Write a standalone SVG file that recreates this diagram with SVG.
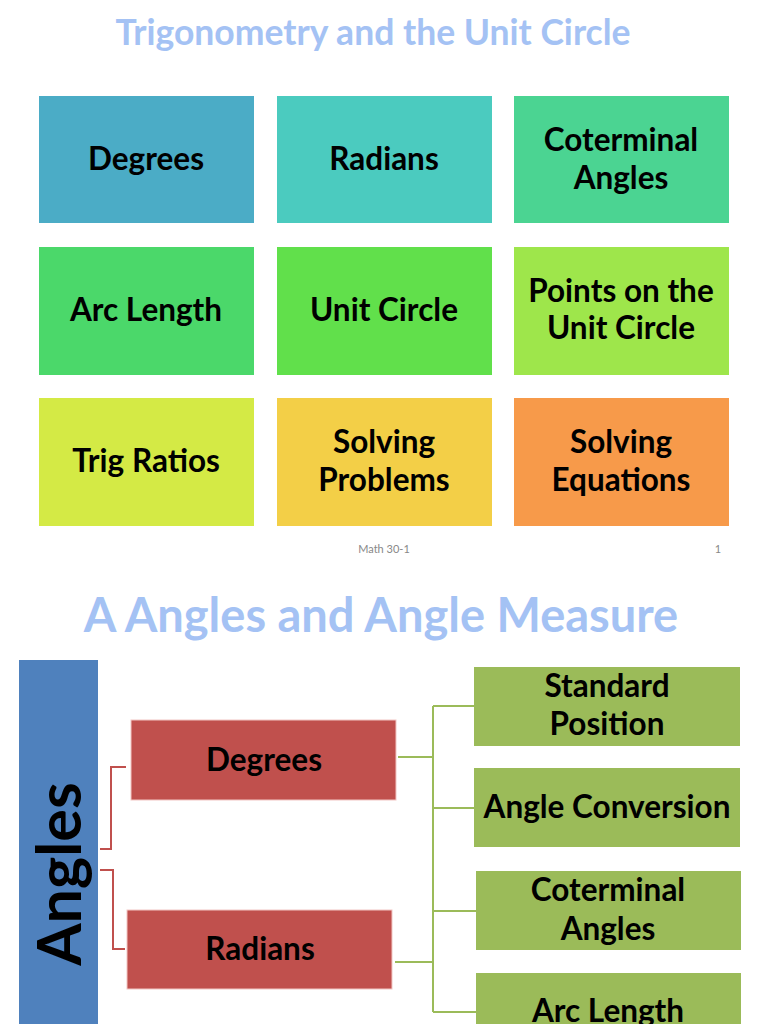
<svg xmlns="http://www.w3.org/2000/svg" width="768" height="1024" viewBox="0 0 768 1024">
<style>
text{font-family:Lato,"Open Sans",sans-serif;font-weight:bold;text-anchor:middle;fill:#000}
.t{font-size:31.5px}
.h{fill:#a4c2f4}
.r{fill:#c0504d;stroke:#f2c6c4;stroke-width:1}
.g{fill:#9bbb59}
.small{font-size:11px;font-weight:normal;fill:#888}
</style>
<rect width="768" height="1024" fill="#fff"/>
<text class="h" x="373" y="45" font-size="35.5">Trigonometry and the Unit Circle</text>
<g id="n1"><rect x="39" y="96" width="215" height="127" fill="#4bacc6"/><text class="t" x="146" y="170">Degrees</text></g>
<g id="n2"><rect x="277" y="96" width="215" height="127" fill="#4bcbbf"/><text class="t" x="384" y="170">Radians</text></g>
<g id="n3"><rect x="514" y="96" width="215" height="127" fill="#4bd492"/><text class="t" x="621" y="151">Coterminal</text><text class="t" x="621" y="189">Angles</text></g>
<g id="n4"><rect x="39" y="247" width="215" height="128" fill="#4bd86a"/><text class="t" x="146" y="321">Arc Length</text></g>
<g id="n5"><rect x="277" y="247" width="215" height="128" fill="#61e04b"/><text class="t" x="384" y="321">Unit Circle</text></g>
<g id="n6"><rect x="514" y="247" width="215" height="128" fill="#9ee64b"/><text class="t" x="621" y="302">Points on the</text><text class="t" x="621" y="339">Unit Circle</text></g>
<g id="n7"><rect x="39" y="398" width="215" height="128" fill="#d4ea45"/><text class="t" x="146" y="472">Trig Ratios</text></g>
<g id="n8"><rect x="277" y="398" width="215" height="128" fill="#f3cf47"/><text class="t" x="384" y="453">Solving</text><text class="t" x="384" y="491">Problems</text></g>
<g id="n9"><rect x="514" y="398" width="215" height="128" fill="#f79a4a"/><text class="t" x="621" y="453">Solving</text><text class="t" x="621" y="491">Equations</text></g>
<text class="small" x="384" y="553">Math 30-1</text>
<text class="small" x="718" y="553">1</text>
<text class="h" x="381" y="632" font-size="47">A Angles and Angle Measure</text>
<g id="connectors" fill="none" stroke-width="2">
<path d="M100 849H111V767H126M100 870H113V949H125" stroke="#c0504d"/>
<path d="M398 757H433M395 962H433M433 706V1012M433 706H474M433 808H474M433 911H476M433 1012H476" stroke="#9bbb59"/>
</g>
<g id="angles"><rect x="19" y="660" width="79" height="364" fill="#4f81bd"/><text x="0" y="0" font-size="61" transform="translate(81 874) rotate(-90)">Angles</text></g>
<g id="deg"><rect class="r" x="131" y="720" width="265" height="80"/><text class="t" x="264" y="771">Degrees</text></g>
<g id="rad"><rect class="r" x="127" y="910" width="265" height="79"/><text class="t" x="260" y="960">Radians</text></g>
<g id="sp"><rect class="g" x="474" y="667" width="266" height="79"/><text class="t" x="607" y="697">Standard</text><text class="t" x="607" y="735">Position</text></g>
<g id="ac"><rect class="g" x="474" y="768" width="266" height="79"/><text class="t" x="607" y="818">Angle Conversion</text></g>
<g id="ca"><rect class="g" x="476" y="871" width="265" height="79"/><text class="t" x="608" y="901">Coterminal</text><text class="t" x="608" y="940">Angles</text></g>
<g id="al"><rect class="g" x="476" y="973" width="265" height="60"/><text class="t" x="608" y="1022">Arc Length</text></g>
</svg>
